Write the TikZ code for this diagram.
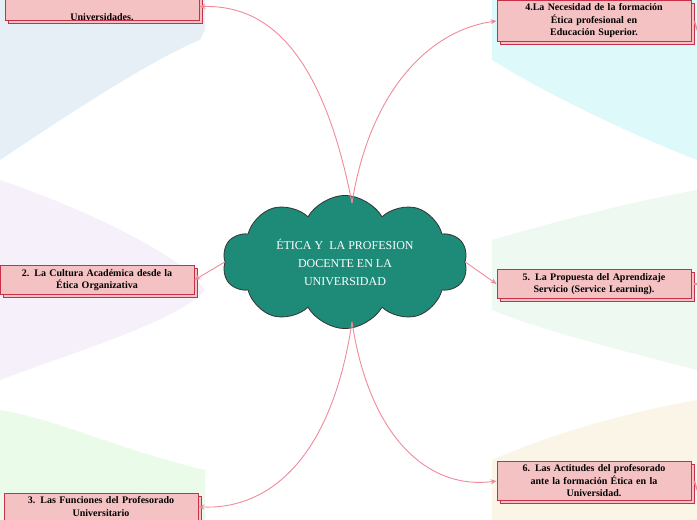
\documentclass[tikz,border=0pt]{standalone}
\usepackage{fontspec}
\setmainfont{Liberation Serif}
\usetikzlibrary{shapes.symbols,arrows.meta,shadows}
\definecolor{boxf}{HTML}{F5C2C4}
\definecolor{boxd}{HTML}{C8304A}
\definecolor{conn}{HTML}{F08A9A}
\definecolor{teal}{HTML}{1E8A78}
\definecolor{bgtl}{HTML}{E6EFF5}
\definecolor{bgl}{HTML}{F6F0FB}
\definecolor{bgbl}{HTML}{EAFBEA}
\definecolor{bgtr}{HTML}{DDF9FA}
\definecolor{bgr}{HTML}{EEF9F2}
\definecolor{bgbr}{HTML}{FAF5E6}
\tikzset{
 tfont/.style={font=\bfseries\fontsize{10}{12.5}\selectfont},
 topic/.style={draw=boxd,fill=boxf,line width=0.8pt,align=center,tfont,text width=186pt,minimum width=194pt,inner sep=3.5pt,
  copy shadow={shadow xshift=3pt,shadow yshift=-3pt,draw=boxd,fill=boxf,line width=0.8pt}},
 link/.style={draw=conn,line width=0.9pt,-{Stealth[length=6pt,width=5pt]}},
}
\begin{document}
\begin{tikzpicture}[x=1pt,y=-1pt]
\useasboundingbox (0,0) rectangle (697,520);
\clip (0,0) rectangle (697,520);
% background regions
\fill[bgtl] (0,0) -- (205,0) -- (205,30) -- (200,40) .. controls (150,60) and (60,120) .. (0,160) -- cycle;
\fill[bgl] (0,180) .. controls (60,200) and (180,250) .. (205,290) .. controls (180,320) and (80,350) .. (0,380) -- cycle;
\fill[bgbl] (0,410) .. controls (60,420) and (120,450) .. (205,470) -- (205,520) -- (0,520) -- cycle;
\fill[bgtr] (492,0) -- (697,0) -- (697,160) .. controls (620,130) and (540,90) .. (492,60) -- cycle;
\fill[bgr] (492,240) .. controls (560,220) and (640,200) .. (697,190) -- (697,370) .. controls (620,350) and (540,330) .. (492,310) -- cycle;
\fill[bgbr] (492,460) .. controls (560,430) and (640,410) .. (697,400) -- (697,520) -- (492,520) -- cycle;
% cloud
\node[cloud,cloud puffs=10,cloud puff arc=120,aspect=2.0,draw=black!80,fill=teal,line width=0.8pt,minimum width=245pt,minimum height=128pt,text=white,align=center,font=\fontsize{12}{18}\selectfont] (c) at (345,262) {ÉTICA Y \ LA PROFESION\\DOCENTE EN LA\\UNIVERSIDAD};
% topics
\node[topic,anchor=south,minimum height=60pt] (t1) at (102,21) {};
\node[tfont,anchor=south] (t1t) at ([yshift=-3pt]t1.south) {Universidades.};
\node[topic,anchor=north] (t4) at (594,0) {4.La Necesidad de la formación\\Ética profesional en\\Educación Superior.};
\node[topic] (t2) at (97,280) {2. La Cultura Académica desde la\\Ética Organizativa};
\node[topic] (t5) at (594,284) {5. La Propuesta del Aprendizaje\\Servicio (Service Learning).};
\node[topic,anchor=north] (t3) at (101,493) {3. Las Funciones del Profesorado\\Universitario};
\node[topic,anchor=north] (t6) at (594,461) {6. Las Actitudes del profesorado\\ante la formación Ética en la\\Universidad.};
% connectors
\coordinate (ct) at (352,203);
\coordinate (cb) at (352,322);
\coordinate (e1) at ([yshift=-16pt]t1.east);
\draw[link] (ct) .. controls (320,40) and (260,5) .. (e1);
\draw[link] (ct) .. controls (370,90) and (430,30) .. (t4.west);
\draw[link] (c.west) -- (t2.east);
\draw[link] (c.east) -- (t5.west);
\draw[link] (cb) .. controls (330,470) and (260,510) .. (t3.east);
\draw[link] (cb) .. controls (370,440) and (430,490) .. (t6.west);
\draw[conn,line width=1.5pt] (t5.east) ++(3,0) -- (697,284);
\draw[conn,line width=1.5pt] (t4.east) ++(3,0) -- (697,30);
\draw[conn,line width=1.5pt] (t6.east) ++(3,0) -- (697,490);
\end{tikzpicture}
\end{document}
